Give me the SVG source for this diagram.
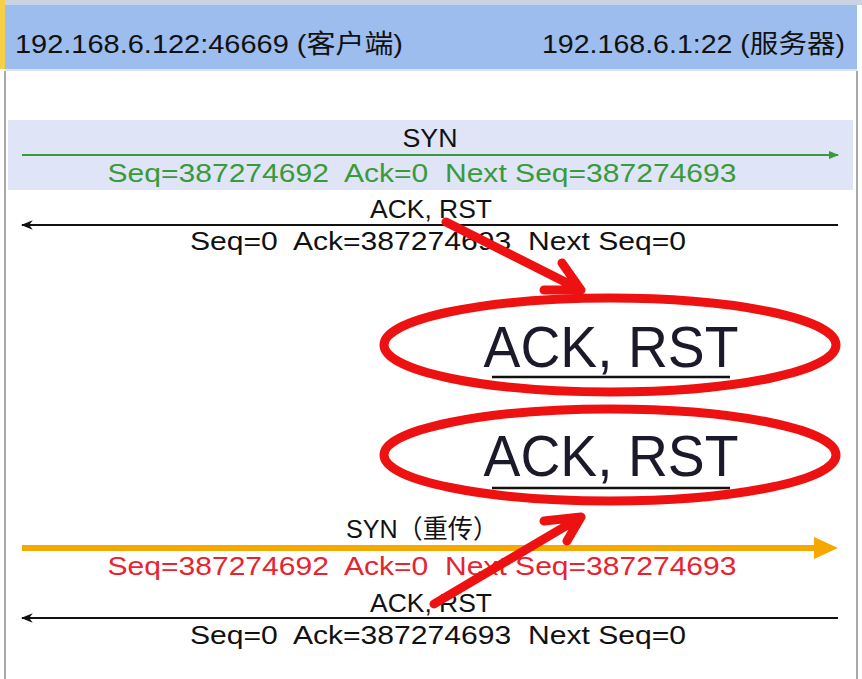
<svg xmlns="http://www.w3.org/2000/svg" width="862" height="679" viewBox="0 0 862 679">
<defs>
<style>
text{white-space:pre}
.t{font-family:"Liberation Sans","Noto Sans CJK SC",sans-serif;font-size:26px;text-anchor:middle;fill:#111}
.h{font-family:"Liberation Sans","Noto Sans CJK SC",sans-serif;font-size:26px;fill:#111}
.big{font-family:"Liberation Sans",sans-serif;font-size:58px;text-anchor:middle;fill:#1a1a2a}
.red{fill:none;stroke:#ee1111;stroke-width:9;stroke-linecap:round;stroke-linejoin:round}
</style>
<marker id="ag" viewBox="0 0 10 10" refX="9" refY="5" markerWidth="10" markerHeight="10" markerUnits="userSpaceOnUse" orient="auto"><path d="M0,1 L10,5 L0,9 z" fill="#3a9a3a"/></marker>
<marker id="ab" viewBox="0 0 10 10" refX="9" refY="5" markerWidth="12" markerHeight="12" markerUnits="userSpaceOnUse" orient="auto-start-reverse"><path d="M0,1 L10,5 L0,9 L3,5 z" fill="#111"/></marker>
</defs>
<rect x="0" y="0" width="862" height="679" fill="#ffffff"/>
<g id="frame">
<rect x="0" y="0" width="862" height="5" fill="#c9d3e3"/>
<rect x="5" y="5" width="852" height="64" fill="#9dbdee"/>
<rect x="0" y="0" width="5" height="69" fill="#f5cf45"/>
<line x1="5" y1="70" x2="857" y2="70" stroke="#dde3ee" stroke-width="2"/>
<line x1="5" y1="71" x2="5" y2="679" stroke="#a8a8a8" stroke-width="2"/>
<line x1="857" y1="71" x2="857" y2="679" stroke="#a8a8a8" stroke-width="2"/>
</g>
<g id="client"><text class="h" x="15" y="53" textLength="388" lengthAdjust="spacingAndGlyphs">192.168.6.122:46669 (客户端)</text></g>
<g id="server"><text class="h" x="542" y="53" textLength="303" lengthAdjust="spacingAndGlyphs">192.168.6.1:22 (服务器)</text></g>
<g id="syn-band"><rect x="8" y="120" width="845" height="70" fill="#dfe4f7"/></g>
<g id="connectors">
<line x1="22" y1="155" x2="838" y2="155" stroke="#3a9a3a" stroke-width="2" marker-end="url(#ag)"/>
<line x1="838" y1="225" x2="22" y2="225" stroke="#111" stroke-width="2" marker-end="url(#ab)"/>
<line x1="22" y1="548" x2="818" y2="548" stroke="#f5a800" stroke-width="6"/>
<path d="M814,537 L838,548 L814,559 z" fill="#f5a800"/>
<line x1="838" y1="618" x2="22" y2="618" stroke="#111" stroke-width="2" marker-end="url(#ab)"/>
</g>
<g id="msg1">
<text class="t" x="430" y="147" textLength="55" lengthAdjust="spacingAndGlyphs">SYN</text>
<text class="t" x="422" y="182" style="fill:#3a9a3a" textLength="629" lengthAdjust="spacingAndGlyphs">Seq=387274692  Ack=0  Next Seq=387274693</text>
</g>
<g id="msg2">
<text class="t" x="431" y="218" textLength="122" lengthAdjust="spacingAndGlyphs">ACK, RST</text>
<text class="t" x="438" y="250" textLength="496" lengthAdjust="spacingAndGlyphs">Seq=0  Ack=387274693  Next Seq=0</text>
</g>
<g id="zoom1">
<line x1="492" y1="377" x2="730" y2="377" stroke="#111" stroke-width="2.5"/>
<text class="big" x="611" y="367" textLength="255" lengthAdjust="spacingAndGlyphs">ACK, RST</text>
<ellipse cx="610" cy="345" rx="226" ry="47" class="red"/>
</g>
<g id="zoom2">
<line x1="492" y1="488" x2="730" y2="488" stroke="#111" stroke-width="2.5"/>
<text class="big" x="611" y="476" textLength="255" lengthAdjust="spacingAndGlyphs">ACK, RST</text>
<ellipse cx="610" cy="455" rx="226" ry="46" class="red"/>
</g>
<g id="msg3">
<text class="t" x="422" y="538" textLength="152" lengthAdjust="spacingAndGlyphs">SYN（重传）</text>
<text class="t" x="422" y="575" style="fill:#e8232f" textLength="629" lengthAdjust="spacingAndGlyphs">Seq=387274692  Ack=0  Next Seq=387274693</text>
</g>
<g id="msg4">
<text class="t" x="431" y="612" textLength="122" lengthAdjust="spacingAndGlyphs">ACK, RST</text>
<text class="t" x="438" y="644" textLength="496" lengthAdjust="spacingAndGlyphs">Seq=0  Ack=387274693  Next Seq=0</text>
</g>
<g id="red-arrows">
<path class="red" d="M446,222 L581,290 M544,290 L581,290 L562,263"/>
<path class="red" d="M434,604 L581,517 M544,521 L581,517 L567,541"/>
</g>
</svg>
